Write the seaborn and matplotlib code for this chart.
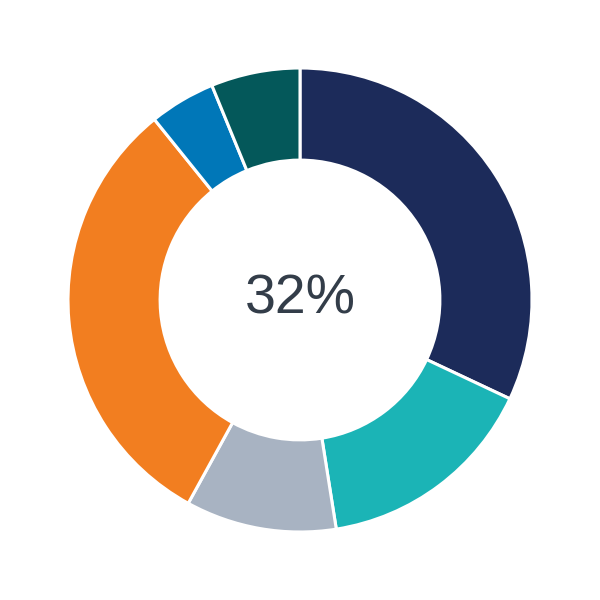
import matplotlib
matplotlib.use("Agg")
import matplotlib.pyplot as plt
import seaborn as sns

# Data
labels = ["Navy", "Teal", "Gray", "Orange", "Blue", "Dark green"]
values = [32, 15.5, 10.5, 31.2, 4.6, 6.2]
colors = ["#1c2b5a", "#1bb4b6", "#a8b3c2", "#f27e20", "#0077b8", "#04585a"]
center_text = "32%"

sns.set_theme(style="white")
plt.rcParams["font.family"] = ["Liberation Sans", "DejaVu Sans"]

fig = plt.figure(figsize=(6, 6), dpi=100)
ax = fig.add_axes([0, 0, 1, 1])

ax.pie(values, colors=colors, startangle=90, counterclock=False,
       radius=1, wedgeprops=dict(width=0.397, edgecolor="white", linewidth=2.2))

ax.text(0, 0, center_text, ha="center", va="center", fontsize=40, color="#333d49")

lim = 300 / 232
ax.set_xlim(-lim, lim)
ax.set_ylim(-lim, lim)
ax.set_aspect("equal")
ax.axis("off")

fig.savefig("out.png", dpi=100, facecolor="white")
